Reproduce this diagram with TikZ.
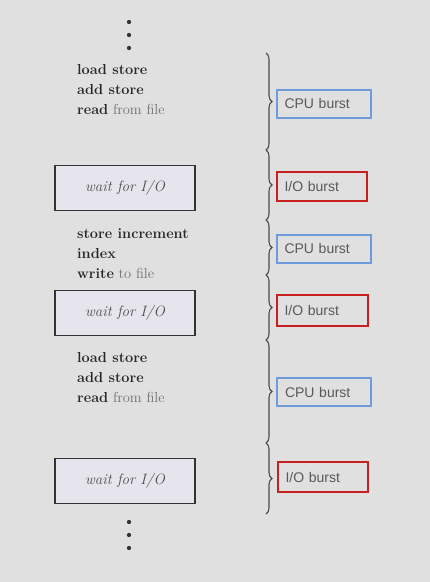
\documentclass[tikz,border=0pt]{standalone}
\usepackage{fontspec}
\newfontfamily\burstfont{Liberation Sans}
\usepackage{xcolor}
\usetikzlibrary{positioning,decorations.pathreplacing}

\definecolor{bgray}{HTML}{E0E0E0}
\definecolor{waitfill}{HTML}{E6E4EC}
\definecolor{cpublue}{HTML}{6E9BDD}
\definecolor{iored}{HTML}{C8201E}
\definecolor{txtgray}{HTML}{707070}

\tikzset{
    code/.style={anchor=west, align=left, inner sep=0pt, text=black!85,
        font=\fontsize{14.5}{20}\selectfont},
    waitbox/.style={draw=black!80, line width=1.3pt, fill=waitfill,
        minimum width=140pt, minimum height=45pt, text=black!70,
        font=\fontsize{15}{17}\selectfont\itshape},
    burst/.style={line width=2pt, fill=bgray, text=black!65,
        text width=78pt, inner xsep=8pt, minimum height=28pt, align=left,
        font=\burstfont\fontsize{14}{16}\selectfont},
    cpu/.style={burst, draw=cpublue},
    io/.style={burst, draw=iored},
    bracket/.style={decorate, decoration={brace, amplitude=6pt},
        draw=black!70, line width=1.1pt},
    vdot/.style={circle, fill=black!80, inner sep=0pt, minimum size=4.3pt}
}

\begin{document}
\begin{tikzpicture}[x=1pt, y=-1pt]
    \fill[bgray] (0,0) rectangle (430,582);
    \useasboundingbox (0,0) rectangle (430,582);

    % dots on top
    \node[vdot] (t1) at (129,22) {};
    \node[vdot] (t2) at (129,35) {};
    \node[vdot] (t3) at (129,48) {};

    % left column: code and waits
    \node[code] (c1) at (77,90) {\textbf{load store}\\ \textbf{add store}\\
        \textbf{read} \textcolor{txtgray}{from file}};
    \node[waitbox] (w1) at (125,188) {wait for I/O};
    \node[code] (c2) at (77,254) {\textbf{store increment}\\ \textbf{index}\\
        \textbf{write} \textcolor{txtgray}{to file}};
    \node[waitbox] (w2) at (125,313) {wait for I/O};
    \node[code] (c3) at (77,378) {\textbf{load store}\\ \textbf{add store}\\
        \textbf{read} \textcolor{txtgray}{from file}};
    \node[waitbox] (w3) at (125,481) {wait for I/O};

    % dots at the bottom
    \node[vdot] (d1) at (129,522) {};
    \node[vdot] (d2) at (129,535) {};
    \node[vdot] (d3) at (129,548) {};

    % braces
    \coordinate (b0) at (266,53);
    \coordinate (b1) at (266,150);
    \coordinate (b2) at (266,220);
    \coordinate (b3) at (266,275);
    \coordinate (b4) at (266,340);
    \coordinate (b5) at (266,443);
    \coordinate (b6) at (266,514);
    \draw[bracket] (b0) -- (b1);
    \draw[bracket] (b1) -- (b2);
    \draw[bracket] (b2) -- (b3);
    \draw[bracket] (b3) -- (b4);
    \draw[bracket] (b4) -- (b5);
    \draw[bracket] (b5) -- (b6);

    % right column: bursts
    \node[cpu] (u1) at (323.5,103.5) {CPU burst};
    \node[io, text width=74pt, minimum height=29pt] (o1) at (321.5,186.5) {I/O burst};
    \node[cpu] (u2) at (323.5,248.5) {CPU burst};
    \node[io, text width=75pt, minimum height=31pt] (o2) at (322,310.5) {I/O burst};
    \node[cpu] (u3) at (324,392) {CPU burst};
    \node[io, text width=74pt, minimum height=30pt] (o3) at (322.5,477) {I/O burst};
\end{tikzpicture}
\end{document}
